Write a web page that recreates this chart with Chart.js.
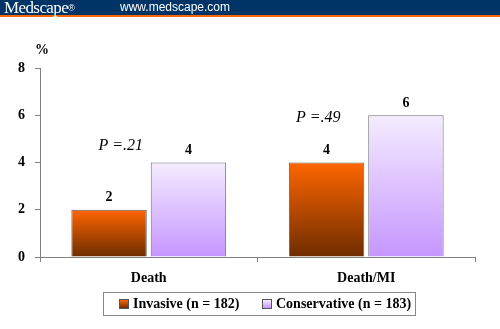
<!DOCTYPE html>
<html>
<head>
<meta charset="utf-8">
<script src="https://cdn.jsdelivr.net/npm/chart.js@4/dist/chart.umd.min.js"></script>
<style>
  html,body{margin:0;padding:0;background:#fff;}
  #wrap{position:relative;width:500px;height:329px;overflow:hidden;}
  #hdr{position:absolute;left:0;top:0;width:500px;height:15px;background:#003366;border-bottom:2px solid #FF6600;}
  #logo{position:absolute;left:4px;top:-2px;font-family:"Liberation Serif",serif;font-size:17px;color:#fff;letter-spacing:-0.6px;}
  #logo sup{font-size:9px;vertical-align:2px;font-family:"Liberation Sans",sans-serif;letter-spacing:0;}
  #url{position:absolute;left:120px;top:0px;font-family:"Liberation Sans",Arial,sans-serif;font-size:12px;color:#fff;}
  #pct{position:absolute;left:35px;top:42px;font-family:"Liberation Serif",serif;font-weight:bold;font-size:14px;color:#000;}
  #legend{position:absolute;left:103px;top:292px;width:313px;height:24px;border:1px solid #888;box-sizing:border-box;font-family:"Liberation Serif",serif;font-weight:bold;font-size:14px;color:#000;}
  .li{position:absolute;top:3px;white-space:nowrap;}
  .sw{display:inline-block;width:8px;height:8px;border:1px solid #555;vertical-align:-1px;margin-right:4px;}
  canvas{position:absolute;left:0;top:0;}
</style>
</head>
<body>
<div id="wrap">
  <canvas id="c" width="500" height="329"></canvas>
  <div id="hdr"><span id="logo">Medscape<sup>®</sup></span><span id="url">www.medscape.com</span></div>
  <div id="pct">%</div>
  <div id="legend">
    <span class="li" style="left:15px"><span class="sw" id="sw0"></span><span id="lt0"></span></span>
    <span class="li" style="left:158px"><span class="sw" id="sw1"></span><span id="lt1"></span></span>
  </div>
</div>
<script>
const categories = ["Death", "Death/MI"];
const seriesNames = ["Invasive (n = 182)", "Conservative (n = 183)"];
const invasive = [2, 4];
const conservative = [4, 6];
const pValues = ["P =.21", "P =.49"];
const yTicks = [0, 2, 4, 6, 8];

const gradStops = [
  ["#FF6600", "#6E2C00"],
  ["#F4ECFF", "#C696FF"]
];

document.getElementById('lt0').textContent = seriesNames[0];
document.getElementById('lt1').textContent = seriesNames[1];
document.getElementById('sw0').style.background = 'linear-gradient(#FF6600,#6E2C00)';
document.getElementById('sw1').style.background = 'linear-gradient(#F4ECFF,#C696FF)';

function barGradient(dsIndex) {
  return function(ctx) {
    const chart = ctx.chart;
    const y = chart.scales && chart.scales.y;
    if (!chart.chartArea || !y || ctx.dataIndex === undefined) return gradStops[dsIndex][0];
    const v = ctx.raw;
    const top = y.getPixelForValue(v);
    const bot = y.getPixelForValue(0);
    const g = chart.ctx.createLinearGradient(0, top, 0, bot);
    g.addColorStop(0, gradStops[dsIndex][0]);
    g.addColorStop(1, gradStops[dsIndex][1]);
    return g;
  };
}

const labelPlugin = {
  id: 'labels',
  afterDatasetsDraw(chart) {
    const ctx = chart.ctx;
    ctx.save();
    ctx.fillStyle = '#000';
    ctx.textAlign = 'center';
    ctx.textBaseline = 'middle';
    ctx.font = 'bold 14px "Liberation Serif", serif';
    chart.data.datasets.forEach((ds, di) => {
      const meta = chart.getDatasetMeta(di);
      meta.data.forEach((bar, i) => {
        ctx.fillText(String(ds.data[i]), bar.x, bar.y - 12);
      });
    });
    ctx.font = 'italic 16px "Liberation Serif", serif';
    const y = chart.scales.y;
    const x = chart.scales.x;
    const pPos = chart.options.plugins.labels.pPos;
    pValues.forEach((p, i) => {
      const cx = x.getPixelForValue(i) + pPos[i].dx;
      const cy = y.getPixelForValue(pPos[i].v);
      ctx.fillText(p, cx, cy);
    });
    ctx.restore();
  }
};

new Chart(document.getElementById('c'), {
  type: 'bar',
  data: {
    labels: categories,
    datasets: [
      { label: seriesNames[0], data: invasive, backgroundColor: barGradient(0),
        borderColor: '#606060', borderWidth: 1, borderSkipped: 'bottom' },
      { label: seriesNames[1], data: conservative, backgroundColor: barGradient(1),
        borderColor: '#707070', borderWidth: 1, borderSkipped: 'bottom' }
    ]
  },
  options: {
    responsive: false,
    animation: false,
    devicePixelRatio: 1,
    layout: { padding: { top: 68, right: 25, left: 0, bottom: 0 } },
    datasets: { bar: { barPercentage: 0.95, categoryPercentage: 0.73 } },
    plugins: {
      legend: { display: false },
      tooltip: { enabled: false },
      labels: { pPos: [ { dx: -28, v: 4.72 }, { dx: -48, v: 5.88 } ] }
    },
    scales: {
      x: {
        grid: { drawOnChartArea: false, color: '#808080', tickLength: 5, offset: true },
        border: { color: '#808080', width: 1 },
        ticks: { color: '#000', padding: 8, font: { family: '"Liberation Serif", serif', weight: 'bold', size: 14 } },
        afterFit(s) { s.height = 72; }
      },
      y: {
        min: 0, max: 8,
        afterBuildTicks(s) { s.ticks = yTicks.map(v => ({ value: v })); },
        grid: { drawOnChartArea: false, color: '#808080', tickLength: 5 },
        border: { color: '#808080', width: 1 },
        ticks: { color: '#000', padding: 10, font: { family: '"Liberation Serif", serif', weight: 'bold', size: 14 } },
        afterFit(s) { s.width = 40; }
      }
    }
  },
  plugins: [labelPlugin]
});
</script>
</body>
</html>
